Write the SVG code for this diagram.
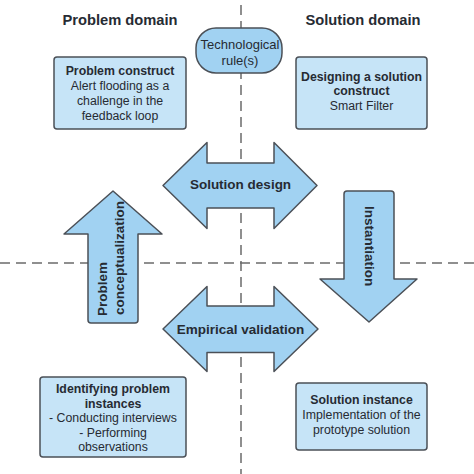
<svg xmlns="http://www.w3.org/2000/svg" width="474" height="474" viewBox="0 0 474 474">
<style>
text{font-family:"Liberation Sans",Arial,sans-serif;fill:#262b33}
.h{font-size:14.7px;font-weight:bold}
.b{font-size:12.3px;font-weight:bold}
.r{font-size:12.3px}
.a{font-size:13.5px;font-weight:bold}
.box{fill:#c6e4f7;stroke:#4b5057;stroke-width:1.5}
.arr{fill:#a1d2f2;stroke:#4b5057;stroke-width:1.5;stroke-linejoin:round}
.dash{stroke:#6b6b6b;stroke-width:1.5;stroke-dasharray:10 6;fill:none}
</style>
<rect width="474" height="474" fill="#fff"/>
<g id="connectors">
<line class="dash" x1="241" y1="5" x2="241" y2="474"/>
<line class="dash" x1="0" y1="263" x2="474" y2="263"/>
</g>
<text class="h" x="120" y="25" text-anchor="middle">Problem domain</text>
<text class="h" x="363" y="25" text-anchor="middle">Solution domain</text>
<g id="technological-rules">
<rect x="196" y="28" width="86" height="45" rx="20" class="arr"/>
<text class="r" style="font-size:13px" x="240" y="48.5" text-anchor="middle">Technological</text>
<text class="r" style="font-size:13px" x="240" y="64.5" text-anchor="middle">rule(s)</text>
</g>
<g id="problem-construct">
<rect x="54" y="57" width="132" height="72" rx="3" class="box"/>
<text class="b" x="120" y="75" text-anchor="middle">Problem construct</text>
<text class="r" x="120" y="90" text-anchor="middle">Alert flooding as a</text>
<text class="r" x="120" y="104.5" text-anchor="middle">challenge in the</text>
<text class="r" x="120" y="119.5" text-anchor="middle">feedback loop</text>
</g>
<g id="solution-construct">
<rect x="296" y="57" width="131" height="72" rx="3" class="box"/>
<text class="b" x="361.5" y="80.5" text-anchor="middle">Designing a solution</text>
<text class="b" x="361.5" y="95" text-anchor="middle">construct</text>
<text class="r" x="361.5" y="110" text-anchor="middle">Smart Filter</text>
</g>
<g id="solution-design">
<path class="arr" d="M163,185.5 L207,142.5 L207,163 L274,163 L274,142.5 L317,185.5 L274,228.5 L274,208 L207,208 L207,228.5 Z"/>
<text class="a" x="240.5" y="188.5" text-anchor="middle">Solution design</text>
</g>
<g id="problem-conceptualization">
<path class="arr" d="M113,191 L162,234 L138,234 L138,320 Q138,323 135,323 L91,323 Q88,323 88,320 L88,234 L64,234 Z"/>
<text class="a" transform="translate(106.5,316) rotate(-90)">Problem</text>
<text class="a" transform="translate(123.5,315) rotate(-90)">conceptualization</text>
</g>
<g id="instantiation">
<path class="arr" d="M344,194 Q344,191 347,191 L391,191 Q394,191 394,194 L394,279 L417,279 L369,322 L320,279 L344,279 Z"/>
<text class="a" transform="translate(364.5,206) rotate(90)">Instantiation</text>
</g>
<g id="empirical-validation">
<path class="arr" d="M163,329 L207,286.5 L207,306 L274,306 L274,286.5 L318,329 L274,371.5 L274,352.5 L207,352.5 L207,371.5 Z"/>
<text class="a" x="240.5" y="334" text-anchor="middle">Empirical validation</text>
</g>
<g id="problem-instances">
<rect x="40" y="377" width="146" height="80" rx="3" class="box"/>
<text class="b" x="113" y="393" text-anchor="middle">Identifying problem</text>
<text class="b" x="113" y="407.5" text-anchor="middle">instances</text>
<text class="r" x="113" y="422" text-anchor="middle">- Conducting interviews</text>
<text class="r" x="113" y="437" text-anchor="middle">- Performing</text>
<text class="r" x="113" y="451" text-anchor="middle">observations</text>
</g>
<g id="solution-instance">
<rect x="296" y="383" width="131" height="67" rx="3" class="box"/>
<text class="b" x="361.5" y="404" text-anchor="middle">Solution instance</text>
<text class="r" x="361.5" y="419" text-anchor="middle">Implementation of the</text>
<text class="r" x="361.5" y="433.5" text-anchor="middle">prototype solution</text>
</g>
</svg>
